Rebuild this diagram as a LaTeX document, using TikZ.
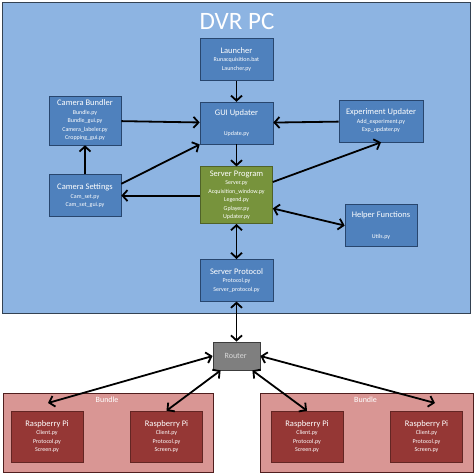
\documentclass[tikz,border=0pt]{standalone}
\usepackage{fontspec}
\setmainfont{Carlito}
\usetikzlibrary{positioning, arrows.meta}

\definecolor{pcfill}{RGB}{141,180,226}
\definecolor{pcedge}{RGB}{52,66,82}
\definecolor{modfill}{RGB}{79,129,189}
\definecolor{modedge}{RGB}{40,70,110}
\definecolor{srvfill}{RGB}{119,147,60}
\definecolor{srvedge}{RGB}{79,98,40}
\definecolor{rtfill}{RGB}{127,127,127}
\definecolor{rtedge}{RGB}{60,60,60}
\definecolor{bndfill}{RGB}{217,150,148}
\definecolor{bndedge}{RGB}{80,30,30}
\definecolor{pifill}{RGB}{149,55,53}
\definecolor{piedge}{RGB}{99,37,35}

\newcommand\boxtitle[1]{{\fontsize{8.5}{9}\selectfont #1}}

\begin{document}
\begin{tikzpicture}[x = 1pt, y = -1pt,
    every node/.style = { align = center, text = white, inner sep = 0pt, font = \fontsize{6}{8.5}\selectfont },
    module/.style = { draw = modedge, fill = modfill, line width = .6pt, minimum width = 73pt, minimum height = 42pt },
    bundle/.style = { draw = bndedge, fill = bndfill, line width = 1pt, minimum height = 79pt },
    pibox/.style = { draw = piedge, fill = pifill, line width = .6pt, minimum width = 72pt, minimum height = 51pt },
    link/.style = { line width = 1.8pt, -{Straight Barb[length = 5pt, width = 11pt]} },
    twoway/.style = { line width = 1.8pt, {Straight Barb[length = 5pt, width = 11pt]}-{Straight Barb[length = 5pt, width = 11pt]} }]
  \useasboundingbox (0,0) rectangle (474,474);

  \node [draw = pcedge, fill = pcfill, line width = 1.5pt, minimum width = 468pt, minimum height = 311pt] (pc) at (236.5,158) {};
  \node [font = \fontsize{25}{25}\selectfont] (title) at (237,21) {DVR PC};

  \node [module] (launch) at (236.5,59.5) { \boxtitle{Launcher} \\ Runacquisition.bat \\ Launcher.py };
  \node [module, below = 21pt of launch] (gui) { \boxtitle{GUI Updater} \\[12pt] Update.py };
  \node [module, fill = srvfill, draw = srvedge, minimum width = 72pt, minimum height = 57pt, below = 22pt of gui] (server)
    { \boxtitle{Server Program} \\ Server.py \\ Acquisition\_window.py \\ Legend.py \\ Gplayer.py \\ Updater.py };
  \node [module, below = 35pt of server] (proto) { \boxtitle{Server Protocol} \\ Protocol.py \\ Server\_protocol.py };
  \node [draw = rtedge, fill = rtfill, line width = .8pt, minimum width = 47pt, minimum height = 28pt,
    text = white!85!black, font = \fontsize{8}{9}\selectfont, below = 40pt of proto] (router) { Router };

  \node [module, minimum width = 72pt, minimum height = 49pt] (bundler) at (85,120.5)
    { \boxtitle{Camera Bundler} \\ Bundle.py \\ Bundle\_gui.py \\ Camera\_labeler.py \\ Cropping\_gui.py };
  \node [module, minimum width = 72pt, below = 29pt of bundler] (camset) { \boxtitle{Camera Settings} \\ Cam\_set.py \\ Cam\_set\_gui.py };
  \node [module, minimum width = 84pt] (expupd) at (381,121) { \boxtitle{Experiment Updater} \\ Add\_experiment.py \\ Exp\_updater.py };
  \node [module, minimum width = 72pt, below = 62pt of expupd] (helper) { \boxtitle{Helper Functions} \\[12pt] Utils.py };

  \node [bundle, minimum width = 210pt] (bundleL) at (108,432.5) {};
  \node [bundle, minimum width = 213pt] (bundleR) at (366.5,432.5) {};
  \node [font = \fontsize{8}{9}\selectfont, below = 4pt of bundleL.north] (tagL) { Bundle };
  \node [font = \fontsize{8}{9}\selectfont, below = 4pt of bundleR.north] (tagR) { Bundle };
  \node [pibox] (pi1) at (47,436.5) { \boxtitle{Raspberry Pi} \\ Client.py \\ Protocol.py \\ Screen.py };
  \node [pibox] (pi2) at (166.5,436.5) { \boxtitle{Raspberry Pi} \\ Client.py \\ Protocol.py \\ Screen.py };
  \node [pibox] (pi3) at (307,436.5) { \boxtitle{Raspberry Pi} \\ Client.py \\ Protocol.py \\ Screen.py };
  \node [pibox] (pi4) at (426.5,436.5) { \boxtitle{Raspberry Pi} \\ Client.py \\ Protocol.py \\ Screen.py };
  \coordinate (endL) at (48,403);
  \coordinate (endR) at (435,403);

  \draw [link] (launch) -- (gui);
  \draw [link] (gui) -- (server);
  \draw [link] (bundler) -- (gui);
  \draw [link] (camset.18) -- (gui.south west);
  \draw [link] (server.west |- camset) -- (camset.east);
  \draw [link] (camset) -- (bundler);
  \draw [link] (expupd) -- (gui);
  \draw [link] (server.20) -- (expupd.south);
  \draw [twoway] (server.-20) -- (helper.west);
  \draw [twoway] (server) -- (proto);
  \draw [twoway] (proto) -- (router);
  \draw [twoway] (router.west) -- (endL);
  \draw [twoway] ([xshift = 8pt]router.south west) -- (pi2.north);
  \draw [twoway] ([xshift = -8pt]router.south east) -- (pi3.north);
  \draw [twoway] (router.east) -- (endR);
\end{tikzpicture}
\end{document}
